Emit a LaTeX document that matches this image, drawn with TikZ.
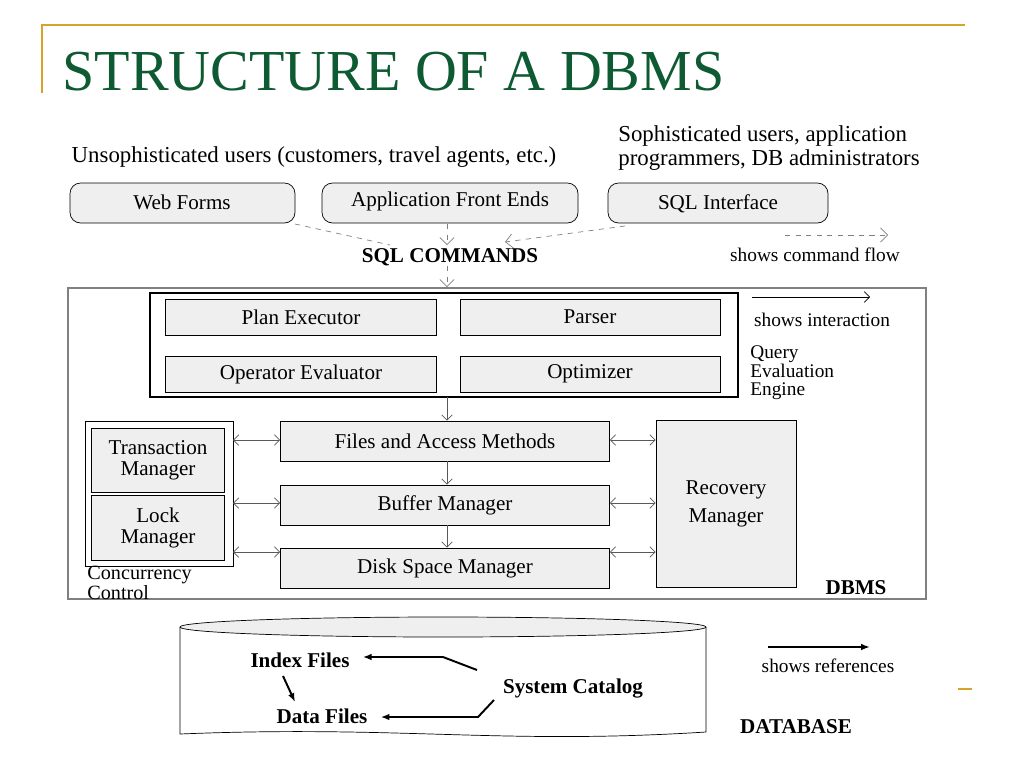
\documentclass[tikz,border=0pt]{standalone}
\usepackage{fontspec}
\setmainfont{Liberation Serif}
\usetikzlibrary{arrows.meta}
\definecolor{Gold}{HTML}{D4A52A}
\definecolor{Title}{HTML}{0E5A32}
\definecolor{BoxFill}{HTML}{EFEFEF}
\tikzset{
  box/.style={draw, fill=BoxFill, inner sep=0pt, font=\fontsize{12}{12}\selectfont},
  cmd/.style={dashed, gray, -{Straight Barb[length=4pt]}},
  inter/.style={gray!70!black, {Straight Barb[length=3pt]}-{Straight Barb[length=3pt]}},
  flow/.style={gray!70!black, -{Straight Barb[length=3pt]}},
  ref/.style={line width=1.1pt, -{Latex[length=5pt]}},
  lbl/.style={font=\fontsize{12}{12}\selectfont, align=left},
  bold/.style={font=\bfseries\fontsize{12}{13}\selectfont},
  small/.style={font=\fontsize{11}{12}\selectfont}
}
\begin{document}
\begin{tikzpicture}[x=0.02cm, y=-0.02cm]%
\useasboundingbox (0,0) rectangle (1024,768);%
\draw[Gold, line width=1pt] (42,93) -- (42,25) -- (965,25);%
\draw[Gold, line width=1pt] (958,689) -- (972,689);%
\node[anchor=base west, text=Title, font=\fontsize{33}{36}\selectfont, inner sep=0pt] (title) at (62,90) {STRUCTURE OF A DBMS};%
\node[font=\fontsize{13}{14}\selectfont] (naive) at (314,157) {Unsophisticated users (customers, travel agents, etc.)};%
\node[font=\fontsize{13}{14}\selectfont, anchor=west, inner sep=0pt, align=left] (expert) at (618,148) {Sophisticated users, application\\programmers, DB administrators};%
% front ends
\path[box, rounded corners=6pt] (70,183) rectangle (295,223);%
\node[lbl] (web) at (182,202) {Web Forms};%
\path[box, rounded corners=6pt] (322,183) rectangle (578,223);%
\node[lbl] (app) at (450,201) {Application Front Ends};%
\path[box, rounded corners=6pt] (608,183) rectangle (828,223);%
\node[lbl] (sqli) at (718,204) {SQL Interface};%
\coordinate (webo) at (295,224);%
\coordinate (appo) at (447,224);%
\coordinate (sqlo) at (625,226);%
\node[bold] (cmds) at (450,257) {SQL COMMANDS};%
\coordinate (cmdl) at (390,245);%
\coordinate (cmdc) at (447,245);%
\coordinate (cmdr) at (505,242);%
\draw[dashed, gray] (webo) -- (cmdl);%
\draw[cmd] (appo) -- (cmdc);%
\draw[cmd] (sqlo) -- (cmdr);%
\coordinate (fl1) at (785,235);%
\coordinate (fl2) at (888,235);%
\draw[cmd] (fl1) -- (fl2);%
\node[small] (flowt) at (815,255) {shows command flow};%
% DBMS
\draw[gray, thick] (68,288) rectangle (926,599);%
\coordinate (cmdb) at (447,266);%
\coordinate (dbtop) at (447,287);%
\draw[cmd] (cmdb) -- (dbtop);%
\draw[thick] (150,293) rectangle (738,397);%
\node[box, minimum width=5.42cm, minimum height=0.72cm] (plan) at (301,317) {Plan Executor};%
\node[box, minimum width=5.2cm, minimum height=0.72cm] (parser) at (590,317) {Parser};%
\node[box, minimum width=5.42cm, minimum height=0.72cm] (opeval) at (301,374) {Operator Evaluator};%
\node[box, minimum width=5.2cm, minimum height=0.72cm] (optim) at (590,374) {Optimizer};%
\node[font=\fontsize{11}{10.5}\selectfont, align=left, anchor=west, inner sep=0pt] (qee) at (750,373) {Query\\Evaluation\\Engine};%
\coordinate (in1) at (752,297);%
\coordinate (in2) at (870,297);%
\draw[flow, black] (in1) -- (in2);%
\node[small] (intert) at (822,320) {shows interaction};%
\coordinate (qeeb) at (447,397);%
\node[box, minimum width=6.58cm, minimum height=0.8cm] (files) at (445,441) {Files and Access Methods};%
\node[box, minimum width=6.58cm, minimum height=0.8cm] (buffer) at (445,505) {Buffer Manager};%
\node[box, minimum width=6.58cm, minimum height=0.8cm] (disk) at (445,568) {Disk Space Manager};%
\draw[flow] (qeeb) -- (files.north -| qeeb);%
\draw[flow] (files.south -| qeeb) -- (buffer.north -| qeeb);%
\draw[flow] (buffer.south -| qeeb) -- (disk.north -| qeeb);%
\draw (85,421) rectangle (233,566);%
\node[box, minimum width=2.66cm, minimum height=1.28cm, align=center] (trans) at (158,460) {Transaction\\Manager};%
\node[box, minimum width=2.66cm, minimum height=1.3cm, align=center] (lock) at (158,528) {Lock\\Manager};%
\node[font=\fontsize{11.5}{9.5}\selectfont, align=left, anchor=west, inner sep=0pt] (conc) at (87,583) {Concurrency\\Control};%
\node[box, minimum width=2.8cm, minimum height=3.34cm, align=center] (recov) at (726,504) {Recovery\\[4pt]Manager};%
\foreach \y/\n in {440/files, 503/buffer, 552/disk} {%
  \draw[inter] (233,\y) -- (\n.west |- 0,\y);%
  \draw[inter] (\n.east |- 0,\y) -- (recov.west |- 0,\y);%
}%
\node[bold] (dbms) at (856,588) {DBMS};%
% database
\draw[fill=white] (180,627) -- (180,734) .. controls (400,725) and (500,745) .. (706,732) -- (706,627);%
\draw[fill=BoxFill] (443,627) ellipse (263 and 10);%
\node[bold] (index) at (300,660) {Index Files};%
\node[bold] (data) at (322,716) {Data Files};%
\node[bold] (cat) at (573,688) {System Catalog};%
\coordinate (c0) at (477,670);%
\coordinate (c1) at (443,657);%
\coordinate (c3) at (494,700);%
\coordinate (c2) at (478,717);%
\draw[ref] (c0) -- (c1) -- ([xshift=4pt]c1 -| index.east);%
\draw[ref] (c3) -- (c2) -- ([xshift=4pt]c2 -| data.east);%
\coordinate (i0) at (283,676);%
\coordinate (d0) at (295,702);%
\draw[ref] (i0) -- (d0);%
\coordinate (rf1) at (768,647);%
\coordinate (rf2) at (870,647);%
\draw[ref] (rf1) -- (rf2);%
\node[small] (reft) at (828,666) {shows references};%
\node[bold] (dbase) at (796,727) {DATABASE};%
\end{tikzpicture}
\end{document}
